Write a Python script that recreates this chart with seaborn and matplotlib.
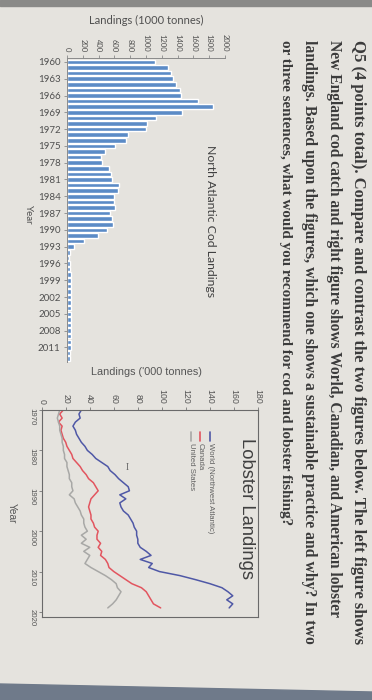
"""
Rebuilds the photographed worksheet page (Q5): North Atlantic cod landings bars
and the lobster landings lines, drawn sideways as the photo shows them.
"""

import matplotlib
matplotlib.use("Agg")
import matplotlib.pyplot as plt
from matplotlib.patches import Polygon, Rectangle
from matplotlib.lines import Line2D
import seaborn as sns
import pandas as pd

# ---- cod data (1000 tonnes) ----
cod_years = list(range(1960, 2014))
cod_landings = [1116, 1284, 1314, 1347, 1377, 1432, 1444, 1655, 1853, 1457,
                1124, 1011, 994, 766, 749, 602, 484, 434, 438, 531,
                556, 573, 657, 640, 590, 590, 602, 547, 568, 581,
                505, 390, 215, 90, 40, 30, 38, 42, 45, 50,
                52, 50, 48, 46, 50, 47, 52, 50, 55, 52,
                48, 45, 42, 40]
cod_ticks = list(range(0, 2001, 200))
cod_year_ticks = list(range(1960, 2012, 3))

# ---- lobster data ('000 tonnes) ----
lob_years = list(range(1970, 2020))
lob_world = [33, 31, 32, 28, 26, 28, 29, 31, 33, 36,
             38, 42, 45, 50, 55, 57, 61, 64, 68, 72,
             73, 65, 70, 65, 66, 68, 72, 74, 76, 77,
             79, 79, 80, 80, 82, 87, 91, 82, 92, 89,
             98, 115, 128, 140, 150, 155, 159, 154, 159, 156]
lob_canada = [18, 15, 17, 14, 17, 16, 17, 18, 20, 21,
              23, 25, 26, 29, 32, 34, 37, 39, 43, 45,
              47, 44, 41, 40, 39, 40, 41, 41, 43, 44,
              47, 46, 46, 49, 47, 50, 49, 53, 55, 56,
              60, 65, 70, 75, 83, 87, 89, 91, 93, 99]
lob_us = [15, 14, 13, 14, 15, 15, 16, 17, 17, 18,
          18, 19, 19, 21, 21, 22, 23, 23, 25, 25,
          26, 23, 27, 28, 30, 32, 33, 35, 35, 36,
          38, 33, 37, 33, 40, 35, 40, 38, 36, 41,
          47, 53, 58, 62, 63, 66, 64, 62, 59, 55]
lob_series = ["World (Northwest Atlantic)", "Canada", "United States"]
lob_colors = ["#4f58a6", "#e2555f", "#a8a8a6"]
lob_ticks = list(range(0, 181, 20))
lob_year_ticks = list(range(1970, 2021, 10))

question = [
    "Q5 (4 points total). Compare and contrast the two figures below. The left figure shows",
    "New England cod catch and right figure shows World, Canadian, and American lobster",
    "landings. Based upon the figures, which one shows a sustainable practice and why? In two",
    "or three sentences, what would you recommend for cod and lobster fishing?",
]
# the photo is a little closer to the camera on the right, so line 1 reads bigger
question_sizes = [12, 11.2, 11.3, 10.9]

W, H = 372, 700
paper = "#e5e3de"
ink = "#3b3b3b"


def fx(px):
    return px / W


def fy(py):
    return 1 - py / H


sns.set_style("white")
fig = plt.figure(figsize=(W / 100, H / 100), dpi=100)
fig.patch.set_facecolor(paper)

# photo edges
fig.add_artist(Rectangle((0, fy(6)), 1, 6 / H, transform=fig.transFigure,
                         color="#8a8a88", zorder=0))
fig.add_artist(Polygon([(0, 0), (1, 0), (1, fy(692)), (0, fy(684))],
                       closed=True, transform=fig.transFigure,
                       color="#6f7a8a", zorder=0))

# ---- question text ----
for x, line, size in zip([358, 334, 309, 285], question, question_sizes):
    fig.text(fx(x), fy(40), line, rotation=-90, ha="center", va="top",
             family="Liberation Serif", weight="bold", fontsize=size, color=ink)

# ---- cod bars ----
ax = fig.add_axes([fx(67), fy(362), fx(158), 304 / H])
ax.set_facecolor("none")
sns.barplot(x=cod_landings, y=cod_years, orient="h", native_scale=True,
            color="#5b8bc6", saturation=1, width=0.8, ax=ax)
ax.set_xlim(0, 2000)
ax.set_ylim(2013.6, 1959.3)
ax.xaxis.tick_top()
ax.set_xticks(cod_ticks)
ax.set_xticklabels([str(t) for t in cod_ticks], rotation=-90,
                   family="Lato", fontsize=5.5, color="#505050")
ax.set_yticks(cod_year_ticks)
ax.set_yticklabels([str(t) for t in cod_year_ticks],
                   family="Lato", fontsize=7, color="#505050")
ax.tick_params(axis="both", length=2.5, width=0.6, color="#8a8a8a", pad=2,
               left=True, top=True, bottom=False)
for side in ["bottom", "right"]:
    ax.spines[side].set_visible(False)
for side in ["top", "left"]:
    ax.spines[side].set_color("#8a8a8a")
    ax.spines[side].set_linewidth(0.7)
ax.set_xlabel("")
ax.set_ylabel("")

fig.text(fx(146), fy(20), "Landings (1000 tonnes)", ha="center", va="center",
         family="Lato", fontsize=8, color="#505050")
fig.text(fx(28), fy(215), "Year", rotation=-90, ha="center", va="center",
         family="Lato", fontsize=7, color="#505050")
fig.text(fx(210), fy(145), "North Atlantic Cod Landings", rotation=-90,
         ha="center", va="top", family="Lato", fontsize=8.8, color="#404040")

# ---- lobster lines ----
lob = pd.DataFrame({
    "year": lob_years * 3,
    "landings": lob_world + lob_canada + lob_us,
    "series": sum([[s] * len(lob_years) for s in lob_series], []),
})

ax2 = fig.add_axes([fx(41.7), fy(617), fx(216.3), 207 / H])
ax2.set_facecolor("none")
sns.lineplot(data=lob, x="landings", y="year", hue="series", orient="y",
             palette=lob_colors, hue_order=lob_series, estimator=None,
             linewidth=1.1, legend=False, ax=ax2)
ax2.set_xlim(0, 180)
ax2.set_ylim(2021.25, 1970)
ax2.xaxis.tick_top()
ax2.set_xticks(lob_ticks)
ax2.set_xticklabels([str(t) for t in lob_ticks], rotation=-90,
                    family="Liberation Sans", fontsize=6.3, color="#555555")
ax2.set_yticks(lob_year_ticks)
ax2.set_yticklabels([str(t) for t in lob_year_ticks], rotation=-90,
                    family="Liberation Sans", fontsize=5.6, color="#555555")
ax2.tick_params(axis="both", length=2.5, width=0.6, color="#777777", pad=2,
                left=True, top=True, bottom=False)
for side in ax2.spines.values():
    side.set_color("#6a6a6a")
    side.set_linewidth(0.8)
ax2.set_xlabel("")
ax2.set_ylabel("")

fig.text(fx(146), fy(372), "Landings ('000 tonnes)", ha="center", va="center",
         family="Liberation Sans", fontsize=7.8, color="#555555")
fig.text(fx(12), fy(513), "Year", rotation=-90, ha="center", va="center",
         family="Liberation Sans", fontsize=7.3, color="#555555")
fig.text(fx(247), fy(438), "Lobster Landings", rotation=-90, ha="center",
         va="top", family="Liberation Sans", fontsize=13.2, color="#404040")
fig.text(fx(127), fy(467), "I", ha="center", va="center",
         family="Liberation Serif", fontsize=7, color="#666666")

# hand-made sideways legend
for x, name, c in zip([210, 200, 191], lob_series, lob_colors):
    fig.add_artist(Line2D([fx(x), fx(x)], [fy(432), fy(441)],
                          transform=fig.transFigure, color=c, linewidth=1.2))
    fig.text(fx(x), fy(443), name, rotation=-90, ha="center", va="top",
             family="Liberation Sans", fontsize=5.6, color="#606060")

fig.savefig("out.png", dpi=100, facecolor=fig.get_facecolor())
